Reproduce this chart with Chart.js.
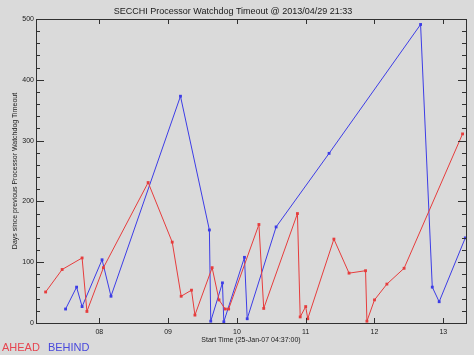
<!DOCTYPE html>
<html>
<head>
<meta charset="utf-8">
<script src="https://cdn.jsdelivr.net/npm/chart.js@4"></script>
<style>
  html, body { margin: 0; padding: 0; background: #dadada; }
  #wrap { width: 474px; height: 355px; }
</style>
</head>
<body>
<div id="wrap"><canvas id="wdChart"></canvas></div>
<script>
// Data ---------------------------------------------------------------
// x = year - 2000 (fractional), y = days since previous timeout
const aheadX = [7.22, 7.46, 7.75, 7.82, 8.06, 8.71, 9.06, 9.19, 9.34, 9.39, 9.64, 9.74, 9.83, 9.88,
                10.32, 10.39, 10.88, 10.92, 11.00, 11.03, 11.41, 11.63, 11.87, 11.89, 12.00, 12.18, 12.43, 13.28];
const aheadY = [51, 88, 107, 19, 91, 231, 133, 44, 54, 13, 91, 38, 23, 23,
                162, 24, 180, 10, 27, 7, 138, 82, 86, 3, 38, 64, 90, 311];

const behindX = [7.51, 7.67, 7.75, 8.04, 8.17, 9.18, 9.60, 9.62, 9.79, 9.81, 10.11, 10.15, 10.57, 11.34, 12.67, 12.84, 12.94, 13.32];
const behindY = [23, 59, 27, 104, 44, 373, 153, 3, 66, 2, 108, 7, 158, 279, 491, 59, 35, 140];

const xTicks = [8, 9, 10, 11, 12, 13];
const yTicks = [0, 100, 200, 300, 400, 500];

const seriesNames = ['AHEAD', 'BEHIND'];
const seriesColors = ['#e63c3c', '#3c3ce6'];
const legendColors = ['#e64550', '#4848dc'];

const toPoints = (xs, ys) => xs.map((x, i) => ({x: x, y: ys[i]}));

// Frame + inward IDL style ticks + text legend ---------------------
const idlFrame = {
  id: 'idlFrame',
  afterDraw(chart) {
    const ctx = chart.ctx;
    const a = chart.chartArea;
    const xs = chart.scales.x, ys = chart.scales.y;
    ctx.save();
    ctx.strokeStyle = '#303030';
    ctx.lineWidth = 1;
    ctx.strokeRect(Math.round(a.left) + 0.5, Math.round(a.top) + 0.5,
                   Math.round(a.right - a.left), Math.round(a.bottom - a.top));
    ctx.beginPath();
    // y ticks, major every 100, minor every 20
    for (let v = 0; v <= 500; v += 20) {
      const py = Math.round(ys.getPixelForValue(v)) + 0.5;
      const len = (v % 100 === 0) ? 8 : 4;
      ctx.moveTo(a.left, py); ctx.lineTo(a.left + len, py);
      ctx.moveTo(a.right, py); ctx.lineTo(a.right - len, py);
    }
    // x ticks
    xTicks.forEach(v => {
      const px = Math.round(xs.getPixelForValue(v)) + 0.5;
      ctx.moveTo(px, a.bottom); ctx.lineTo(px, a.bottom - 5);
      ctx.moveTo(px, a.top); ctx.lineTo(px, a.top + 5);
    });
    ctx.stroke();

    // legend text
    ctx.font = '11px "Liberation Sans", Arial, sans-serif';
    ctx.textBaseline = 'alphabetic';
    let lx = 2;
    seriesNames.forEach((n, i) => {
      ctx.fillStyle = legendColors[i];
      ctx.fillText(n, lx, 351);
      lx += ctx.measureText(n).width + 8;
    });
    ctx.restore();
  }
};

const tickFont = {family: '"Liberation Sans", Arial, sans-serif', size: 7};

const config = {
  type: 'scatter',
  data: {
    datasets: [
      {
        label: seriesNames[0],
        data: toPoints(aheadX, aheadY),
        showLine: true,
        borderColor: seriesColors[0],
        backgroundColor: seriesColors[0],
        borderWidth: 1,
        pointStyle: 'rect',
        pointRadius: 2,
        pointBorderWidth: 0
      },
      {
        label: seriesNames[1],
        data: toPoints(behindX, behindY),
        showLine: true,
        borderColor: seriesColors[1],
        backgroundColor: seriesColors[1],
        borderWidth: 1,
        pointStyle: 'rect',
        pointRadius: 2,
        pointBorderWidth: 0
      }
    ]
  },
  options: {
    responsive: true,
    maintainAspectRatio: false,
    animation: false,
    layout: { padding: { left: 0, right: 8, top: 0, bottom: 0 } },
    plugins: {
      legend: { display: false },
      tooltip: { enabled: false },
      title: {
        display: true,
        text: 'SECCHI Processor Watchdog Timeout @ 2013/04/29 21:33',
        color: '#202020',
        font: {family: '"Liberation Sans", Arial, sans-serif', size: 9, weight: 'normal'},
        padding: { top: 6.6, bottom: 1.6 }
      }
    },
    scales: {
      x: {
        type: 'linear',
        min: 7.08,
        max: 13.33,
        afterFit(scale) { scale.height = 32; },
        afterBuildTicks(scale) { scale.ticks = xTicks.map(v => ({value: v})); },
        grid: { display: false, drawTicks: false },
        border: { display: false },
        ticks: {
          color: '#202020',
          font: tickFont,
          padding: 5,
          maxRotation: 0,
          autoSkip: false,
          callback: v => String(v).padStart(2, '0')
        },
        title: {
          display: true,
          text: 'Start Time (25-Jan-07 04:37:00)',
          color: '#202020',
          font: tickFont,
          padding: { top: 0, bottom: 10.8 }
        }
      },
      y: {
        min: 0,
        max: 500,
        afterFit(scale) { scale.width = 36; },
        afterBuildTicks(scale) { scale.ticks = yTicks.map(v => ({value: v})); },
        grid: { display: false, drawTicks: false },
        border: { display: false },
        ticks: {
          color: '#202020',
          font: tickFont,
          padding: 2
        },
        title: {
          display: true,
          text: 'Days since previous Processor Watchdog Timeout',
          color: '#202020',
          font: tickFont,
          padding: { top: 10.8, bottom: 0 }
        }
      }
    }
  },
  plugins: [idlFrame]
};

const wdChart = new Chart(document.getElementById('wdChart'), config);
</script>
</body>
</html>
